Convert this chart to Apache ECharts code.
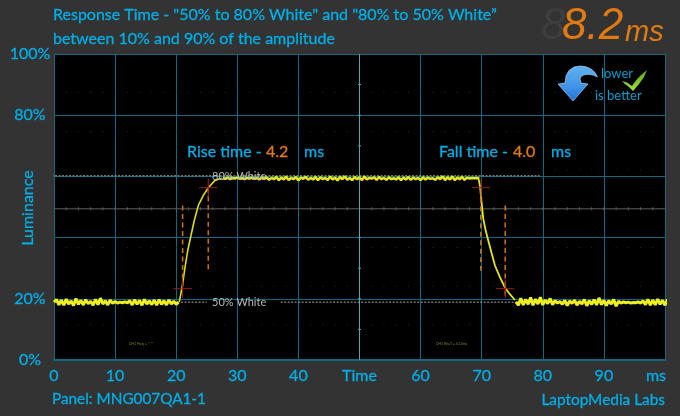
<!DOCTYPE html>
<html>
<head>
<meta charset="utf-8">
<style>html,body{margin:0;padding:0;background:#333}#c{width:680px;height:416px}</style>
<script src="https://cdn.jsdelivr.net/npm/echarts@6/dist/echarts.min.js"></script>
</head>
<body>
<div id="c"></div>
<script>
// Oscilloscope trace, times in ms and luminance in percent
const sampleStep = 0.4;
const lowBefore = [18.9,19.8,18.0,19.6,17.9,19.9,18.3,19.3,17.8,20.1,18.2,19.5,18.0,19.7,18.4,19.2,17.9,19.8,18.1,20.2,18.3,19.4,18.0,19.6,18.5,19.1,18.6,18.9,18.7,19.0,18.7,19.4,18.0,19.7,18.2,19.5,17.9,19.8,18.3,19.3,18.1,19.6,17.9,19.7,18.2,19.4,18.0,19.6,18.3,19.2,18.2,18.9];
const lowBeforeStart = 0;
const riseTime = [20.5,20.74,21.06,21.44,21.88,22.42,22.96,23.62,24.44,25.25,26.35,27.45];
const riseLevel = [18.9,19.3,24.9,30.3,35.7,40.7,45.6,50.5,53.8,56.3,58.7,59.4];
const highLevel = [59.5,59.2,59.6,59.1,59.5,59.3,59.6,59.2,59.4,59.1,59.5,59.3,59.6,59.2,59.5,59.0,59.6,59.2,59.7,58.9,59.5,59.1,59.8,58.8,59.6,59.0,59.9,58.8,59.5,59.1,59.8,58.7,59.6,59.2,59.9,58.9,59.5,59.0,59.8,58.8,59.7,59.1,59.5,58.8,59.9,59.0,59.6,58.7,59.8,59.1,60.0,58.9,59.5,58.8,59.8,59.1,59.6,58.8,59.9,59.0,59.5,59.3,59.7,58.9,59.8,59.1,59.5,58.9,59.7,59.1,59.4,59.0,59.7,58.8,59.6,59.0,59.8,58.9,59.6,59.1,59.5,58.8,59.7,59.0,59.6,59.2,59.4,58.9,59.7,59.1,60.0,58.8,59.7,59.0,59.9,58.8,59.6,59.1,59.8,58.9,59.6,59.3,59.5,59.4,59.5,59.4];
const highStart = 27.6;
const fallTime = [69.44,69.72,70.0,70.26,70.65,71.08,71.64,72.18,73.0,73.8,74.6,75.45];
const fallLevel = [59.5,57.0,51.1,46.2,42.3,39.0,34.8,30.8,27.0,23.7,21.5,19.6];
const lowAfter = [19.0,17.9,20.2,18.0,19.8,18.2,20.4,17.9,19.9,18.3,20.5,18.0,19.6,18.4,20.1,18.1,19.4,18.6,19.1,18.2,19.5,17.8,19.3,18.5,19.6,17.9,19.2,18.3,19.8,17.7,19.4,18.2,19.7,18.0,20.3,18.1,19.5,17.8,19.4,18.3,19.8,17.6,19.2,18.6,19.0,18.7,18.9,18.6,18.8,18.7,19.0,18.6,19.3,18.1,19.8,17.9,19.6,18.0,19.9,18.2,19.5,17.9,19.7,18.0,19.6,18.3,19.4,17.9,19.7,18.1,19.5,18.2];
const lowAfterStart = 75.6;

// Level references and measurement cursors
const level80 = [[-0.4,60.2],[79.5,60.2]];
const level50Left = [[20.8,18.9],[25.0,18.9]];
const level50Right = [[37.1,18.9],[100,18.9]];
const cursorLines = [
  [[21.05,50.5],[21.05,23.3]],
  [[25.25,56.3],[25.25,29.0]],
  [[69.85,53.0],[69.85,29.2]],
  [[73.85,50.5],[73.85,20.5]]
];
const crosshairs = [[21.05,23.3],[25.25,56.3],[69.9,56.3],[73.85,23.3]];
const crossHalfX = 1.5, crossHalfY = 3.0;

const xTickLabels = ['0','10','20','30','40','Time','60','70','80','90','{end|ms}'];
const yTickLabels = ['0%','20%','40%','60%','80%','100%'];
const hiddenYTicks = ['40%','60%'];
const centerTimes = [2,4,6,8,10,12,14,16,18,20,22,24,26,28,30,32,34,36,38,40,42,44,46,48,52,54,56,58,60,62,64,66,68,70,72,74,76,78,80,82,84,86,88,90,92,94,96,98];
const centerLevels = [10,20,30,40,60,70,80,90];
const centerLevel = 49.4, centerTime = 50;
const dotLevels = [87.4,74.7,62.1,36.8,24.1,11.5];

const cyan = '#00aee6', orange = '#e27a12', gridBlue = '#0b6a80', ui = 'Lato, "Noto Sans", sans-serif';

const series2 = (values, start) => values.map((v, i) => [+(start + i * sampleStep).toFixed(2), v]);
const pair = (a, b) => a.map((t, i) => [t, b[i]]);
const plain = (name, data, color, width, type, z) => ({
  name, type: 'line', data, symbol: 'none', clip: false, silent: true, z: z || 3,
  lineStyle: { color, width, type: type || 'solid', cap: 'butt' }
});

const series = [
  {
    name: 'graticule', type: 'scatter', symbol: 'rect', symbolSize: 1, silent: true, z: 2,
    data: dotLevels.flatMap(v => centerTimes.map(t => [t, v])), itemStyle: { color: '#303030' }
  },
  plain('centerH', [[0, centerLevel], [100, centerLevel]], '#5f5f5f', 1),
  {
    name: 'centerHTicks', type: 'line', data: centerTimes.map(t => [t, centerLevel]), z: 3,
    showSymbol: true, symbol: 'rect', symbolSize: [1, 3], lineStyle: { width: 0 }, itemStyle: { color: '#5f5f5f' }, silent: true
  },
  plain('centerV', [[centerTime, 0], [centerTime, 100]], '#5f9fb5', 1),
  {
    name: 'centerVTicks', type: 'line', data: centerLevels.map(v => [centerTime, v]), z: 3,
    showSymbol: true, symbol: 'rect', symbolSize: [3, 1], lineStyle: { width: 0 }, itemStyle: { color: '#5f9fb5' }, silent: true
  },
  plain('level80', level80, '#a8a8a8', 1, [2, 1.5], 4),
  plain('level50a', level50Left, '#a8a8a8', 1, [2, 1.5], 4),
  plain('level50b', level50Right, '#a8a8a8', 1, [2, 1.5], 4),
  plain('lowBefore', series2(lowBefore, lowBeforeStart), '#eeee22', 3, null, 6),
  plain('rise', pair(riseTime, riseLevel), '#dcdc1c', 1.6, null, 6),
  plain('high', series2(highLevel, highStart), '#e6e61e', 2.6, null, 6),
  plain('fall', pair(fallTime, fallLevel), '#e6e61e', 1.8, null, 6),
  plain('lowAfter', series2(lowAfter, lowAfterStart), '#eeee22', 3, null, 6)
];
cursorLines.forEach((d, i) => series.push(plain('cursor' + i, d, '#c96a12', 1.6, [5, 3.5], 7)));
crosshairs.forEach(([x, y], i) => {
  series.push(plain('crossH' + i, [[x - crossHalfX, y], [x + crossHalfX, y]], '#a01c1c', 1, null, 8));
  series.push(plain('crossV' + i, [[x, y - crossHalfY], [x, y + crossHalfY]], '#a01c1c', 1, null, 8));
});

const text = (x, y, str, size, color, extra) => ({
  type: 'text', x, y, silent: true, z: 20,
  style: Object.assign({ text: str, fill: color, font: size + 'px ' + ui, textVerticalAlign: 'middle', stroke: color, lineWidth: 0.3 }, extra || {})
});
const tickFont = { color: cyan, fontSize: 16, fontFamily: ui, textBorderColor: cyan, textBorderWidth: 0.3 };

const chart = echarts.init(document.getElementById('c'), null, { renderer: 'canvas' });
chart.setOption({
  backgroundColor: '#333333',
  animation: false,
  grid: { left: 54, right: 15, top: 54, bottom: 56, backgroundColor: '#000', show: true, borderWidth: 0 },
  xAxis: {
    type: 'value', min: 0, max: 100, interval: 10,
    axisLine: { show: true, onZero: false, lineStyle: { color: gridBlue, width: 2 } },
    axisTick: { show: false },
    axisLabel: Object.assign({}, tickFont, {
      margin: 8, showMaxLabel: true, showMinLabel: true,
      formatter: v => xTickLabels[v / 10],
      rich: { end: Object.assign({}, tickFont, { padding: [0, 18, 0, 0] }) }
    }),
    splitLine: { show: true, lineStyle: { color: gridBlue, width: 1 } }
  },
  yAxis: {
    type: 'value', min: 0, max: 100, interval: 20,
    axisLine: { show: true, lineStyle: { color: gridBlue, width: 1 } },
    axisTick: { show: false },
    axisLabel: Object.assign({}, tickFont, {
      margin: 24, align: 'center',
      formatter: v => { const s = yTickLabels[v / 20]; return hiddenYTicks.includes(s) ? '' : s; }
    }),
    splitLine: { show: true, lineStyle: { color: gridBlue, width: 1 } }
  },
  series,
  graphic: [
    text(53, 15, 'Response Time - "50% to 80% White" and "80% to 50% White”', 16, cyan),
    text(53, 39, 'between 10% and 90% of the amplitude', 16, cyan),
    text(187, 152, 'Rise time -', 16, cyan),
    text(266, 152, '4.2', 16, orange),
    text(304, 152, 'ms', 16, cyan),
    text(439, 152, 'Fall time -', 16, cyan),
    text(513, 152, '4.0', 16, orange),
    text(551, 152, 'ms', 16, cyan),
    text(212, 176.5, '80% White', 11, '#b8b8b8', { lineWidth: 0 }),
    text(212, 302.5, '50% White', 11, '#b8b8b8', { lineWidth: 0 }),
    text(129, 344, 'CH1 Freq = ****', 3.5, '#8a8a14', { lineWidth: 0 }),
    text(436, 344, 'CH1 RiseT = 4.14ms', 3.5, '#8a8a14', { lineWidth: 0 }),
    text(52, 399, 'Panel: MNG007QA1-1', 15.3, cyan),
    text(665, 400, 'LaptopMedia Labs', 15.4, cyan, { textAlign: 'right' }),
    { type: 'text', x: 28, y: 208, rotation: Math.PI / 2, silent: true, z: 20,
      style: { text: 'Luminance', fill: cyan, stroke: cyan, lineWidth: 0.3, font: '16px ' + ui, textAlign: 'center', textVerticalAlign: 'middle' } },
    text(601, 74, 'lower', 13, '#0a9ccb', { lineWidth: 0 }),
    text(595, 96, 'is better', 13, '#0a9ccb', { lineWidth: 0 }),
    text(541, 27, '8', 44, '#3e3e3e', { font: 'italic 44px "Liberation Sans", sans-serif', lineWidth: 0 }),
    text(562, 27, '8.2', 44, orange, { font: 'italic 44px "Liberation Sans", sans-serif', lineWidth: 0 }),
    text(625, 33, 'ms', 29, orange, { font: 'italic 29px "Liberation Sans", sans-serif', lineWidth: 0 }),
    { type: 'polygon', silent: true, z: 19,
      shape: { points: [[597.5,77],[595,72.5],[591,69],[586,66.8],[580,66],[574,67],[569,70.5],[566,76],[565,83],[558,84],[573,101],[588,84],[581,83],[580,79],[581,76.5],[584,74.8],[588,74.2],[593,75]] },
      style: { stroke: '#bfe0fa', lineWidth: 0.6,
        fill: new echarts.graphic.LinearGradient(0, 0, 0, 1, [
          { offset: 0, color: '#5fb2f2' }, { offset: 0.6, color: '#3f93e8' }, { offset: 1, color: '#1f6fd6' }
        ]) } },
    { type: 'polygon', silent: true, z: 21,
      shape: { points: [[622,81],[627,82.5],[632,86],[636,80.5],[641,75],[647,70],[644,77],[639,84],[633,91],[629,87],[625,84]] },
      style: { fill: new echarts.graphic.LinearGradient(0, 0, 0, 1, [
          { offset: 0, color: '#5aa414' }, { offset: 1, color: '#a6e23a' }
        ]) } }
  ]
});
</script>
</body>
</html>
